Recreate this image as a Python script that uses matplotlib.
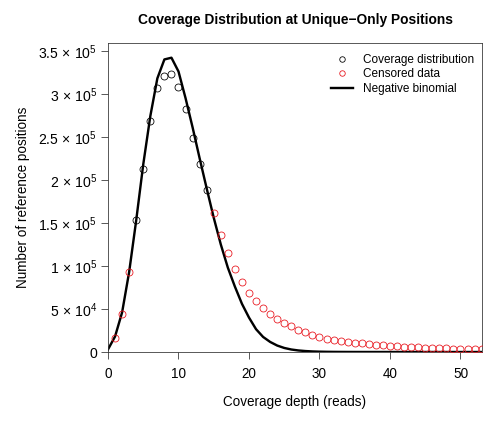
import matplotlib
matplotlib.use('Agg')
import matplotlib.pyplot as plt
from matplotlib.lines import Line2D

plt.rcParams['font.family'] = ['Liberation Sans', 'DejaVu Sans']
plt.rcParams['mathtext.fontset'] = 'custom'
plt.rcParams['mathtext.rm'] = 'Liberation Sans'
plt.rcParams['mathtext.it'] = 'Liberation Sans:italic'
plt.rcParams['mathtext.bf'] = 'Liberation Sans:bold'

# ---- data ----
cov_depth = [4, 5, 6, 7, 8, 9, 10, 11, 12, 13, 14]
cov_count = [153000, 213000, 269000, 307000, 321000, 323500, 308500, 282000,
             249000, 218000, 188700]

cens_depth = [1, 2, 3] + list(range(15, 54))
cens_count = [16000, 44000, 93000,
              162000, 136000, 115000, 96000, 81000, 69000, 59000, 50800,
              44600, 38800, 33700, 29800, 26000, 22900, 19900, 17600,
              15600, 14200, 13000, 12000, 11000, 10200, 9400, 8600, 8000,
              7300, 6700, 6200, 5800, 5400, 5000, 4700, 4400, 4100, 3800,
              3600, 3400, 3200, 3000]

nb_depth = list(range(0, 54))
nb_count = [3000, 18000, 46000, 93000, 153000, 218000, 274000, 318000,
            340000, 342000, 326000, 295000, 261000, 225000, 190000, 156000,
            125000, 98000, 76000, 56000, 40000, 26500, 17500, 11700, 7500,
            4700, 2900, 1800, 1100, 650, 380, 220, 130, 75, 40, 22, 12, 7,
            4, 2, 1, 1, 0, 0, 0, 0, 0, 0, 0, 0, 0, 0, 0, 0]

x_ticks = [0, 10, 20, 30, 40, 50]
y_ticks = [0, 50000, 100000, 150000, 200000, 250000, 300000, 350000]
y_tick_labels = ['0', r'$5\,\times\,10^{4}$', r'$1\,\times\,10^{5}$',
                 r'$1.5\,\times\,10^{5}$', r'$2\,\times\,10^{5}$',
                 r'$2.5\,\times\,10^{5}$', r'$3\,\times\,10^{5}$',
                 r'$3.5\,\times\,10^{5}$']

title = 'Coverage Distribution at Unique\u2212Only Positions'
x_label = 'Coverage depth (reads)'
y_label = 'Number of reference positions'
legend_labels = ['Coverage distribution', 'Censored data', 'Negative binomial']

# ---- figure ----
W, H = 504, 432
fig = plt.figure(figsize=(W / 72, H / 72), dpi=72)
ax = fig.add_axes([108 / W, 80 / H, 374 / W, 309 / H])

ax.plot(nb_depth, nb_count, color='black', lw=2.4, zorder=2)
ax.plot(cov_depth, cov_count, linestyle='none', marker='o', ms=7,
        mfc='none', mec='black', mew=0.8, zorder=3)
ax.plot(cens_depth, cens_count, linestyle='none', marker='o', ms=7,
        mfc='none', mec='#e8141c', mew=0.8, zorder=3)

ax.set_xlim(0, 53.05)
ax.set_ylim(0, max(nb_count) * 1.05)

ax.set_xticks(x_ticks)
ax.set_xticklabels([str(t) for t in x_ticks])
ax.set_yticks(y_ticks)
ax.set_yticklabels(y_tick_labels)
ax.tick_params(axis='both', direction='out', length=7, width=0.8,
               labelsize=13.5, color='#333333')
ax.tick_params(axis='x', pad=8)
ax.tick_params(axis='y', pad=4, labelsize=14)

for s in ax.spines.values():
    s.set_linewidth(0.8)
    s.set_color('#333333')

ax.set_xlabel(x_label, fontsize=13.5, va='center')
ax.xaxis.set_label_coords(0.5, (352 - 402) / 309)
ax.set_ylabel(y_label, fontsize=13.5, va='center')
ax.yaxis.set_label_coords((23 - 108) / 374, 0.5)

ax.set_title(title, fontsize=13.8, fontweight='bold', y=(352 - 20) / 309,
             va='center', pad=0)

handles = [
    Line2D([], [], linestyle='none', marker='o', ms=5.5, mfc='none',
           mec='black', mew=0.8),
    Line2D([], [], linestyle='none', marker='o', ms=5.5, mfc='none',
           mec='#e8141c', mew=0.8),
    Line2D([], [], color='black', lw=2.4),
]
ax.legend(handles, legend_labels, loc='upper left',
          bbox_to_anchor=(331 / W, 1 - 54 / H), bbox_transform=fig.transFigure,
          frameon=False, fontsize=11.7, borderpad=0, borderaxespad=0,
          handlelength=1.85, handletextpad=0.85, labelspacing=0.2)

fig.savefig('out.png', dpi=72)
